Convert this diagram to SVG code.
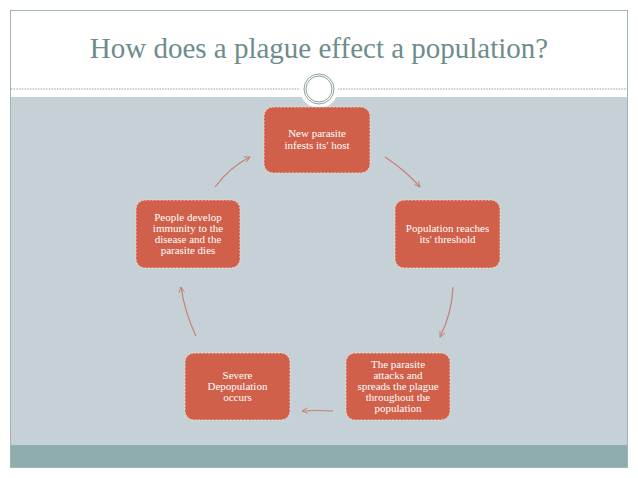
<svg xmlns="http://www.w3.org/2000/svg" width="638" height="478" viewBox="0 0 638 478">
<style>
.node rect{fill:#D0604A;stroke:#F3D8D0;stroke-width:1;stroke-dasharray:2 1.5}
.node text{fill:#FFFFFF;font-family:"Liberation Serif",serif;font-size:11px;text-anchor:middle}
.conn path{fill:none;stroke:#C87F70;stroke-width:1.2;marker-end:url(#ah)}
</style>
<defs>
<marker id="ah" viewBox="0 0 10 10" refX="9" refY="5" markerWidth="7" markerHeight="7" orient="auto" markerUnits="userSpaceOnUse"><path d="M1,1 L9,5 L1,9" fill="none" stroke="#C87F70" stroke-width="1.3"/></marker>
</defs>
<rect width="638" height="478" fill="#FFFFFF"/>
<rect x="10.5" y="10.5" width="617" height="457" fill="#FFFFFF" stroke="#9FB5B8"/>
<rect x="11" y="97" width="616" height="348" fill="#C5D1D7"/>
<rect x="11" y="445" width="616" height="22" fill="#8FADAD"/>
<line x1="11" y1="89" x2="627" y2="89" stroke="#8FA0A4" stroke-dasharray="1.5 1.2"/>
<circle cx="319" cy="89" r="19" fill="#FFFFFF"/>
<circle cx="319" cy="89" r="15" fill="none" stroke="#8FA0A4" stroke-width="1"/>
<circle cx="319" cy="89" r="13" fill="none" stroke="#8FA0A4" stroke-width="1"/>
<text x="319" y="58" font-family="Liberation Serif,serif" font-size="29" fill="#6E8C8C" text-anchor="middle">How does a plague effect a population?</text>
<g id="connectors" class="conn">
<path d="M385,157 Q405,170 420,187"/>
<path d="M453,287 Q452,313 440,337"/>
<path d="M333,411 Q318,410 302,411"/>
<path d="M196,336 Q185,313 181,287"/>
<path d="M215,187 Q230,167 250,157"/>
</g>
<g id="n1" class="node"><rect x="264" y="107" width="106" height="66" rx="9"/><text x="317" y="137">New parasite</text><text x="317" y="149">infests its' host</text></g>
<g id="n2" class="node"><rect x="395" y="200" width="105" height="68" rx="9"/><text x="447.5" y="232">Population reaches</text><text x="447.5" y="243">its' threshold</text></g>
<g id="n3" class="node"><rect x="346" y="353" width="104" height="67" rx="9"/><text x="398" y="368">The parasite</text><text x="398" y="379">attacks and</text><text x="398" y="390">spreads the plague</text><text x="398" y="401">throughout the</text><text x="398" y="412">population</text></g>
<g id="n4" class="node"><rect x="185" y="353" width="105" height="67" rx="9"/><text x="237.5" y="379">Severe</text><text x="237.5" y="390">Depopulation</text><text x="237.5" y="401">occurs</text></g>
<g id="n5" class="node"><rect x="136" y="200" width="104" height="68" rx="9"/><text x="188" y="221">People develop</text><text x="188" y="232">immunity to the</text><text x="188" y="243">disease and the</text><text x="188" y="254">parasite dies</text></g>
</svg>
